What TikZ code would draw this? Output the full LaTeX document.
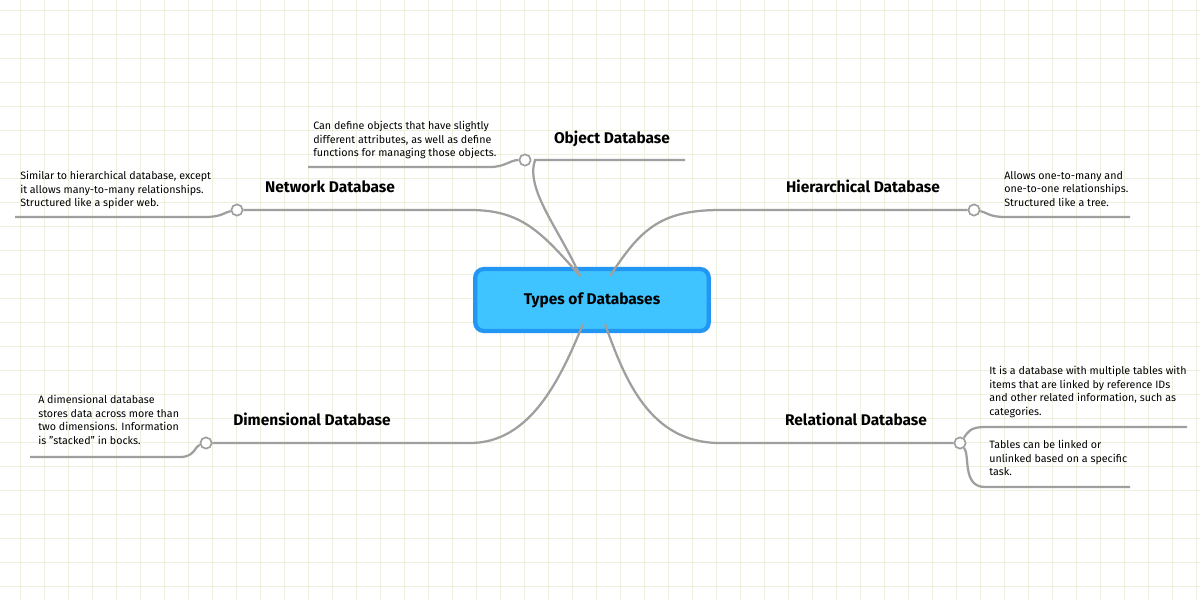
\documentclass[tikz,border=0pt]{standalone}
\usepackage{fontspec}
\setmainfont{Fira Sans}
\begin{document}
\begin{tikzpicture}[x=0.025cm,y=-0.025cm,
  br/.style={draw=gray!75,line width=1.6pt},
  dot/.style={circle,draw=gray!75,line width=1.2pt,fill=white,inner sep=0pt,minimum size=8pt},
  ttl/.style={font=\bfseries\fontsize{11}{13}\selectfont,anchor=base,inner sep=0pt},
  txt/.style={font=\fontsize{7.6}{9.6}\selectfont,align=left,anchor=north west,inner sep=0pt}]
\fill[white] (0,0) rectangle (1200,600);
\useasboundingbox (0,0) rectangle (1200,600);
\foreach \i in {0,...,50}{\draw[color={rgb,255:red,236;green,241;blue,222},line width=0.6pt] (\i*24-4,0) -- (\i*24-4,600);}
\foreach \j in {0,...,25}{\draw[color={rgb,255:red,236;green,241;blue,222},line width=0.6pt] (0,\j*24+10) -- (1200,\j*24+10);}
% centre
\node[draw={rgb,255:red,33;green,150;blue,243},line width=3pt,fill={rgb,255:red,64;green,196;blue,255},rounded corners=6pt,minimum width=166pt*0.75/0.75,minimum height=44pt,font=\bfseries\fontsize{11}{13}\selectfont,inner sep=0pt,text width=0pt] (c) at (592,300) {};
\node[font=\bfseries\fontsize{11}{13}\selectfont] (ct) at (592,300) {Types of Databases};
\coordinate (ctl) at (580,276); \coordinate (ctr) at (610,276);
\coordinate (cbl) at (583,324); \coordinate (cbr) at (605,324);
% Object
\node[dot] (od) at (525,160) {};
\coordinate (oe) at (685,160);
\draw[br] (ctl) .. controls (560,230) and (525,190) .. (535,160) -- (oe);
\node[ttl] (ot) at (612,143) {Object Database};
\coordinate (ol) at (308,167);
\draw[br] (od) .. controls (510,160) and (505,167) .. (490,167) -- (ol);
\node[txt] (otx) at (313,121) {Can define objects that have slightly\\different attributes, as well as define\\functions for managing those objects.};
% Network
\node[dot] (nd) at (237,210) {};
\draw[br] (ctl) .. controls (540,230) and (520,210) .. (470,210) -- (nd);
\node[ttl] (nt) at (330,192) {Network Database};
\coordinate (nl) at (15,217);
\draw[br] (nd) .. controls (225,212) and (222,217) .. (205,217) -- (nl);
\node[txt] (ntx) at (20,171) {Similar to hierarchical database, except\\it allows many-to-many relationships.\\Structured like a spider web.};
% Hierarchical
\node[dot] (hd) at (974,210) {};
\draw[br] (ctr) .. controls (640,230) and (660,210) .. (720,210) -- (hd);
\node[ttl] (ht) at (863,192) {Hierarchical Database};
\coordinate (hl) at (1130,217);
\draw[br] (hd) .. controls (986,212) and (989,217) .. (1005,217) -- (hl);
\node[txt] (htx) at (1004,171) {Allows one-to-many and\\one-to-one relationships.\\Structured like a tree.};
% Dimensional
\node[dot] (dd) at (206,443) {};
\draw[br] (cbl) .. controls (560,380) and (530,443) .. (470,443) -- (dd);
\node[ttl] (dt) at (312,425) {Dimensional Database};
\coordinate (dl) at (30,457);
\draw[br] (dd) .. controls (195,446) and (195,457) .. (180,457) -- (dl);
\node[txt] (dtx) at (38,395) {A dimensional database\\stores data across more than\\two dimensions. Information\\is "stacked" in bocks.};
% Relational
\node[dot] (rd) at (960,443) {};
\draw[br] (cbr) .. controls (625,380) and (650,443) .. (720,443) -- (rd);
\node[ttl] (rt) at (856,425) {Relational Database};
\coordinate (r1) at (1187,427); \coordinate (r2) at (1130,487);
\draw[br] (rd) .. controls (968,432) and (970,427) .. (985,427) -- (r1);
\draw[br] (rd) .. controls (970,455) and (962,487) .. (985,487) -- (r2);
\node[txt] (rtx1) at (989,366) {It is a database with multiple tables with\\items that are linked by reference IDs\\and other related information, such as\\categories.};
\node[txt] (rtx2) at (989,440) {Tables can be linked or\\unlinked based on a specific\\task.};
\end{tikzpicture}
\end{document}
